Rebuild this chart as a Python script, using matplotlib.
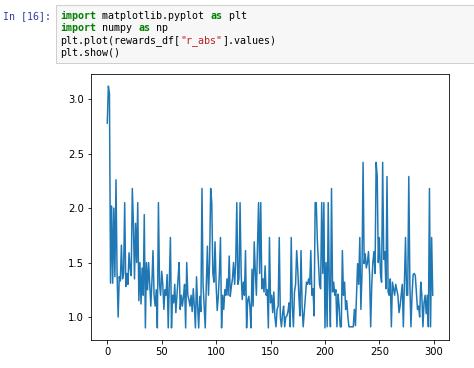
import matplotlib
matplotlib.use("Agg")
import matplotlib.pyplot as plt
from matplotlib.patches import Rectangle

# ---- data ----
r_abs = [
    2.78, 3.12, 3.05, 1.31, 2.02, 1.31, 2.00, 1.37, 2.26, 1.40,
    1.00, 1.37, 1.33, 1.66, 1.35, 1.40, 2.05, 1.28, 1.40, 1.30,
    1.59, 1.45, 1.38, 2.18, 1.86, 1.35, 1.86, 1.50, 2.05, 1.15,
    1.50, 1.12, 1.45, 1.20, 1.94, 0.90, 1.50, 1.25, 1.50, 1.30,
    1.10, 1.32, 1.61, 1.20, 1.10, 1.25, 0.90, 2.05, 1.30, 1.20,
    1.42, 1.30, 1.07, 1.25, 1.20, 1.39, 0.90, 1.30, 1.73, 0.90,
    1.20, 1.13, 1.30, 1.04, 1.20, 1.35, 1.50, 1.07, 1.20, 1.10,
    1.19, 1.30, 0.90, 1.50, 1.20, 1.16, 1.10, 1.20, 1.05, 1.26,
    1.10, 0.90, 1.37, 1.10, 0.90, 1.19, 1.05, 2.18, 1.30, 1.10,
    0.90, 1.30, 1.65, 1.20, 1.50, 2.18, 2.05, 1.40, 1.32, 1.69,
    1.30, 1.06, 1.19, 1.40, 1.73, 0.90, 1.20, 1.07, 1.25, 1.20,
    1.35, 1.20, 1.56, 1.19, 1.28, 1.35, 1.50, 1.30, 1.50, 2.05,
    1.30, 1.35, 2.05, 1.40, 1.16, 1.32, 1.20, 1.61, 0.90, 1.15,
    1.19, 1.10, 0.90, 1.44, 1.10, 1.69, 1.42, 1.20, 1.65, 2.05,
    1.40, 2.05, 1.26, 1.35, 1.23, 1.47, 1.20, 1.25, 0.90, 1.73,
    1.13, 1.20, 1.04, 1.23, 1.00, 0.91, 1.07, 1.10, 1.73, 1.00,
    0.91, 1.03, 1.10, 0.91, 1.00, 1.01, 1.05, 1.13, 0.91, 1.73,
    1.10, 0.91, 1.23, 1.30, 1.61, 1.44, 1.20, 1.01, 1.61, 1.10,
    0.91, 1.05, 1.20, 1.32, 1.30, 1.35, 1.30, 1.61, 1.20, 1.26,
    1.01, 2.05, 2.05, 1.70, 1.50, 1.30, 1.26, 2.05, 1.40, 2.05,
    0.90, 1.50, 0.91, 2.05, 1.30, 0.91, 2.18, 1.23, 1.32, 1.20,
    1.25, 0.91, 1.21, 1.10, 0.91, 0.91, 1.61, 1.20, 1.32, 1.07,
    1.15, 1.01, 0.91, 0.91, 0.91, 0.91, 0.91, 1.07, 0.92, 1.20,
    1.49, 1.30, 1.73, 1.07, 1.39, 2.42, 1.49, 1.58, 1.45, 1.50,
    1.60, 1.39, 0.91, 1.30, 1.50, 1.60, 1.40, 2.42, 2.29, 1.50,
    1.73, 1.40, 1.32, 2.42, 1.53, 1.60, 1.26, 2.29, 1.23, 1.20,
    1.35, 0.91, 1.32, 1.26, 1.20, 1.30, 1.25, 1.20, 1.04, 1.10,
    1.20, 1.30, 0.91, 1.32, 1.73, 1.20, 1.20, 2.29, 1.30, 0.91,
    1.20, 1.39, 1.40, 1.38, 1.23, 1.07, 1.10, 1.00, 1.32, 1.20,
    0.91, 1.13, 1.20, 1.03, 1.20, 0.91, 2.18, 0.91, 1.73, 1.20,
]

code_lines = [
    [("import", "kw"), (" matplotlib.pyplot ", "n"), ("as", "kw"), (" plt", "n")],
    [("import", "kw"), (" numpy ", "n"), ("as", "kw"), (" np", "n")],
    [("plt.plot(rewards_df[", "n"), ('"r_abs"', "s"), ("].values)", "n")],
    [("plt.show()", "n")],
]
prompt = "In [16]:"

W, H = 474, 368
fig = plt.figure(figsize=(W / 72, H / 72), dpi=72)
fig.patch.set_facecolor("white")

# ---- code cell ----
cell = Rectangle((56 / W, 1 - 63 / H), (W - 56 + 5) / W, 58 / H,
                 transform=fig.transFigure, facecolor="#f7f7f7",
                 edgecolor="#cfcfcf", linewidth=1)
fig.add_artist(cell)

fs = 10
cw = 0.6021 * fs  # monospace char width in px
fig.text(3 / W, 1 - 15 / H, prompt, family="DejaVu Sans Mono", fontsize=fs,
         color="#303F9F", va="center_baseline", ha="left")
colors = {"kw": "#008000", "n": "#000000", "s": "#BA2121"}
line_y = [15, 27, 39, 51.5]
for ly, toks in zip(line_y, code_lines):
    col = 0
    for txt, kind in toks:
        fig.text((60 + col * cw) / W, 1 - ly / H, txt,
                 family="DejaVu Sans Mono", fontsize=fs,
                 color=colors[kind],
                 weight="bold" if kind == "kw" else "normal",
                 va="center_baseline", ha="left")
        col += len(txt)

# ---- plot ----
ax = fig.add_axes([91 / W, 1 - 340 / H, (449 - 91) / W, (340 - 74) / H])
ax.plot(r_abs)
ax.tick_params(labelsize=10)

fig.savefig("out.png", dpi=72)
